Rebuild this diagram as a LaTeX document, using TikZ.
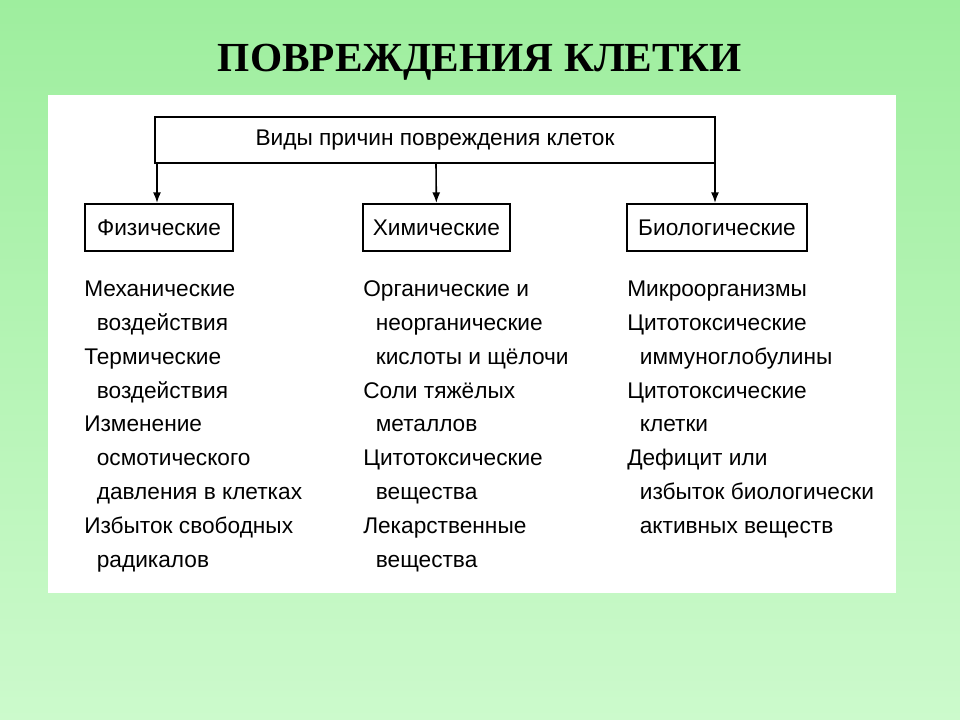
\documentclass[tikz,border=0pt]{standalone}
\usepackage{fontspec}
\usetikzlibrary{arrows.meta}
\setmainfont{Liberation Serif}
\newfontfamily\arialf{Liberation Sans}
\begin{document}
\begin{tikzpicture}[x=0.75pt,y=-0.75pt,
  lab/.style={font=\arialf\fontsize{17}{20}\selectfont,anchor=west,inner sep=0pt,text height=12pt,text depth=4pt},
  cat/.style={draw,line width=1.5pt,font=\arialf\fontsize{17}{20}\selectfont,minimum height=35pt,inner sep=6pt},
  arr/.style={line width=1.2pt,-{Latex[length=8pt,width=6pt]}}]
\useasboundingbox (0,0) rectangle (960,720);
\shade[top color={rgb,255:red,158;green,238;blue,158},bottom color={rgb,255:red,204;green,250;blue,204}] (0,0) rectangle (960,720);
\node[font=\bfseries\fontsize{31}{36}\selectfont] (title) at (480,62) {ПОВРЕЖДЕНИЯ КЛЕТКИ};
\fill[white] (48,95) rectangle (896,593);
\node[draw,line width=1.5pt,minimum width=420pt,minimum height=34pt,font=\arialf\fontsize{17}{20}\selectfont] (top) at (435,140) {Виды причин повреждения клеток};
\node[cat,anchor=north west,minimum width=111pt] (f) at (84,203) {Физические};
\node[cat,anchor=north west,minimum width=110pt] (h) at (362,203) {Химические};
\node[cat,anchor=north west,minimum width=135pt] (b) at (626,203) {Биологические};
\coordinate (a1) at (157,163);\coordinate (a2) at (436,163);\coordinate (a3) at (715,163);
\draw[arr] (a1) -- (157,203);
\draw[arr] (a2) -- (h.north);
\draw[arr] (a3) -- (715,203);
\foreach \t [count=\i] in {Механические,{\ \ воздействия},Термические,{\ \ воздействия},Изменение,{\ \ осмотического},{\ \ давления в клетках},Избыток свободных,{\ \ радикалов}}
  \node[lab] (l\i) at (84,{291+33.9*(\i-1)}) {\t};
\foreach \t [count=\i] in {Органические и,{\ \ неорганические},{\ \ кислоты и щёлочи},Соли тяжёлых,{\ \ металлов},Цитотоксические,{\ \ вещества},Лекарственные,{\ \ вещества}}
  \node[lab] (m\i) at (363,{291+33.9*(\i-1)}) {\t};
\foreach \t [count=\i] in {Микроорганизмы,Цитотоксические,{\ \ иммуноглобулины},Цитотоксические,{\ \ клетки},Дефицит или,{\ \ избыток биологически},{\ \ активных веществ}}
  \node[lab] (r\i) at (627,{291+33.9*(\i-1)}) {\t};
\end{tikzpicture}
\end{document}
